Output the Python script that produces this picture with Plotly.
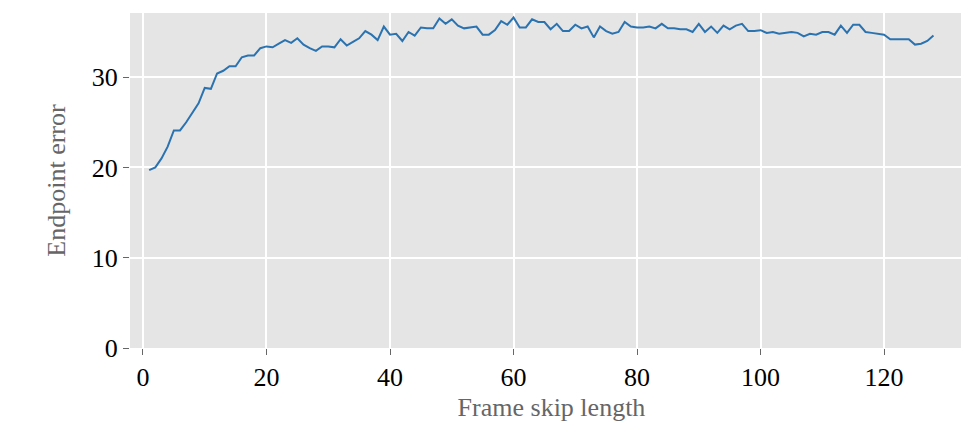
import plotly.graph_objects as go

frame_skip = list(range(1, 129))
endpoint_error = [
    19.7, 20.0, 21.0, 22.3, 24.1, 24.1, 25.0, 26.0, 27.1, 28.8,
    28.7, 30.4, 30.7, 31.2, 31.2, 32.2, 32.4, 32.4, 33.2, 33.4,
    33.3, 33.7, 34.1, 33.8, 34.3, 33.6, 33.2, 32.9, 33.4, 33.4,
    33.3, 34.2, 33.5, 33.9, 34.3, 35.1, 34.7, 34.1, 35.6, 34.7,
    34.8, 34.0, 35.0, 34.6, 35.5, 35.4, 35.4, 36.5, 35.9, 36.4,
    35.7, 35.4, 35.5, 35.6, 34.7, 34.7, 35.2, 36.2, 35.8, 36.6,
    35.5, 35.5, 36.4, 36.1, 36.1, 35.3, 35.9, 35.1, 35.1, 35.8,
    35.4, 35.6, 34.4, 35.6, 35.1, 34.8, 35.0, 36.1, 35.6, 35.5,
    35.5, 35.6, 35.4, 35.9, 35.4, 35.4, 35.3, 35.3, 35.0, 35.9,
    35.0, 35.6, 34.9, 35.7, 35.3, 35.7, 35.9, 35.1, 35.1, 35.2,
    34.9, 35.0, 34.8, 34.9, 35.0, 34.9, 34.5, 34.8, 34.7, 35.0,
    35.0, 34.7, 35.7, 34.9, 35.8, 35.8, 35.0, 34.9, 34.8, 34.7,
    34.2, 34.2, 34.2, 34.2, 33.6, 33.7, 34.0, 34.6,
]
x_ticks = [0, 20, 40, 60, 80, 100, 120]
y_ticks = [0, 10, 20, 30]

fig = go.Figure(go.Scatter(x=frame_skip, y=endpoint_error, mode='lines',
                           line=dict(color='#2b73b0', width=2)))

axis_style = dict(showgrid=True, gridcolor='white', gridwidth=1.5, zeroline=False,
                  ticks='outside', tickcolor='#666', ticklen=6, showline=False,
                  automargin=False, tickfont=dict(size=26, color='black'))
fig.update_xaxes(range=[-2.1, 134.4], tickvals=x_ticks,
                 title=dict(text='Frame skip length', font=dict(size=26, color='#666'), standoff=6),
                 **axis_style)
fig.update_yaxes(range=[0, 37.1], tickvals=y_ticks,
                 title=dict(text='Endpoint error', font=dict(size=26, color='#666'), standoff=18),
                 **axis_style)
fig.update_layout(width=969, height=432, plot_bgcolor='#e5e5e5', paper_bgcolor='white',
                  font=dict(family='Liberation Serif'), showlegend=False,
                  margin=dict(l=122, r=4, t=5, b=92))
fig.write_html("out.html")
